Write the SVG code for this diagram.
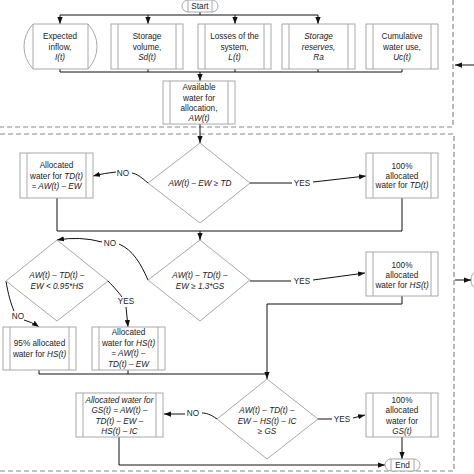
<svg xmlns="http://www.w3.org/2000/svg" width="474" height="474" viewBox="0 0 474 474">
<style>
.box{fill:#fff;stroke:#a8a8a8;stroke-width:1}
.in{fill:none;stroke:#a8a8a8;stroke-width:1}
.t{font-family:"Liberation Sans",Arial,sans-serif;font-size:8.2px;fill:#222;text-anchor:middle}
.i{font-style:italic}
.c{fill:none;stroke:#111;stroke-width:1}
.a{fill:none;stroke:#111;stroke-width:1;marker-end:url(#ah)}
.d{fill:none;stroke:#8a8a8a;stroke-width:1.2;stroke-dasharray:5,3}
</style>
<defs>
<marker id="ah" viewBox="0 0 8 6" refX="8" refY="3" markerWidth="7" markerHeight="5.5" orient="auto" markerUnits="userSpaceOnUse"><path d="M0,0L8,3L0,6z" fill="#111"/></marker>
</defs>
<rect width="474" height="474" fill="#fff"/>
<g id="frames">
<path class="d" d="M453,0V127H0"/>
<path class="d" d="M0,134H454V471H0"/>
<path d="M477,272Q471,272 471,280Q471,288 477,288" fill="#fff" stroke="#a8a8a8"/>
</g>
<g id="connectors">
<path class="c" d="M200,12V15M60,15H318"/>
<path class="a" d="M60,15V24"/><path class="a" d="M148,15V24"/><path class="a" d="M235,15V24"/><path class="a" d="M318,15V24"/>
<path class="c" d="M60,69V72H402V69M148,69V72M235,69V72M318,69V72"/>
<path class="a" d="M200,72V81"/>
<path class="a" d="M200,124V143"/>
<path class="c" d="M148,183C141,177 137,174 132,173"/>
<path class="a" d="M116,172Q105,173 93,176"/>
<path class="c" d="M250,183H292"/>
<path class="a" d="M313,182L366,176"/>
<path class="c" d="M57,198V231H402V198"/>
<path class="a" d="M200,231V240"/>
<path class="c" d="M250,281H291"/>
<path class="a" d="M313,280L365,273"/>
<path class="c" d="M402,296V304H267V374"/>
<path class="c" d="M148,280C141,264 133,250 119,244"/>
<path class="a" d="M102,242Q80,236 57,240"/>
<path class="c" d="M6,281C8,294 11,304 14,311"/>
<path class="a" d="M24,320Q32,322 39,327"/>
<path class="c" d="M108,281C115,288 119,293 122,297"/>
<path class="a" d="M126,307Q127,317 128,327"/>
<path class="c" d="M39,370V374H267M128,370V374"/>
<path class="a" d="M267,374V379"/>
<path class="c" d="M217,419C210,414 206,413 202,413"/>
<path class="a" d="M185,414L164,414"/>
<path class="c" d="M318,419H332"/>
<path class="a" d="M353,418L365,415"/>
<path class="a" d="M402,437V459"/>
<path class="a" d="M119,437V465H385"/>
<path class="a" d="M474,65H455"/>
<path class="a" d="M455,280H471"/>
</g>
<g class="t">
<text x="123" y="176">NO</text>
<text x="302" y="186">YES</text>
<text x="302" y="284">YES</text>
<text x="110" y="246">NO</text>
<text x="18" y="319">NO</text>
<text x="126" y="304">YES</text>
<text x="193" y="416">NO</text>
<text x="342" y="422">YES</text>
</g>
<g id="start">
<rect class="box" x="182" y="0" width="36" height="12" rx="6"/>
<path class="in" d="M188,0V12M212,0V12"/>
<text class="t" x="200" y="9">Start</text>
</g>
<g id="inflow">
<path class="box" d="M33,24H88Q97,34 97,46.5Q97,59 88,69H33Q24,59 24,46.5Q24,34 33,24z"/>
<path class="in" d="M33,24V69M88,24V69"/>
<text class="t" x="60" y="39">Expected</text>
<text class="t" x="60" y="49.5">inflow,</text>
<text class="t i" x="60" y="60">I(t)</text>
</g>
<g id="storage">
<rect class="box" x="111" y="24" width="72" height="45"/>
<path class="in" d="M118,24V69M176,24V69"/>
<text class="t" x="147" y="39">Storage</text>
<text class="t" x="147" y="49.5">volume,</text>
<text class="t i" x="147" y="60">Sd(t)</text>
</g>
<g id="losses">
<rect class="box" x="198" y="24" width="73" height="45"/>
<path class="in" d="M205,24V69M264,24V69"/>
<text class="t" x="234.5" y="39">Losses of the</text>
<text class="t" x="234.5" y="49.5">system,</text>
<text class="t i" x="234.5" y="60">L(t)</text>
</g>
<g id="reserves">
<rect class="box" x="282" y="24" width="73" height="45"/>
<path class="in" d="M289,24V69M348,24V69"/>
<text class="t i" x="318.5" y="39">Storage</text>
<text class="t i" x="318.5" y="49.5">reserves,</text>
<text class="t i" x="318.5" y="60">Ra</text>
</g>
<g id="cumulative">
<rect class="box" x="366" y="24" width="72" height="45"/>
<path class="in" d="M373,24V69M431,24V69"/>
<text class="t" x="402" y="39">Cumulative</text>
<text class="t" x="402" y="49.5">water use,</text>
<text class="t i" x="402" y="60">Uc(t)</text>
</g>
<g id="available">
<rect class="box" x="163" y="81" width="72" height="43"/>
<path class="in" d="M170,81V124M228,81V124"/>
<text class="t" x="199" y="90">Available</text>
<text class="t" x="199" y="100.5">water for</text>
<text class="t" x="199" y="111">allocation,</text>
<text class="t i" x="199" y="121">AW(t)</text>
</g>
<g id="dec1">
<polygon class="box" points="200,143 250,183 200,223 148,183"/>
<text class="t i" x="200" y="186">AW(t) – EW ≥ TD</text>
</g>
<g id="td-alloc">
<rect class="box" x="20" y="153" width="73" height="45"/>
<path class="in" d="M27,153V198M86,153V198"/>
<text class="t" x="56.5" y="168">Allocated</text>
<text class="t" x="56.5" y="178.5">water for <tspan class="i">TD(t)</tspan></text>
<text class="t i" x="56.5" y="189">= AW(t) – EW</text>
</g>
<g id="td-full">
<rect class="box" x="366" y="153" width="72" height="45"/>
<path class="in" d="M373,153V198M431,153V198"/>
<text class="t" x="402" y="169">100%</text>
<text class="t" x="402" y="178.5">allocated</text>
<text class="t" x="402" y="188">water for <tspan class="i">TD(t)</tspan></text>
</g>
<g id="dec2">
<polygon class="box" points="200,240 250,280 200,321 148,280"/>
<text class="t i" x="200" y="278">AW(t) – TD(t) –</text>
<text class="t i" x="200" y="289">EW  ≥ 1.3*GS</text>
</g>
<g id="hs-full">
<rect class="box" x="366" y="252" width="72" height="44"/>
<path class="in" d="M373,252V296M431,252V296"/>
<text class="t" x="402" y="268">100%</text>
<text class="t" x="402" y="278">allocated</text>
<text class="t" x="402" y="287.5">water for <tspan class="i">HS(t)</tspan></text>
</g>
<g id="dec3">
<polygon class="box" points="57,240 108,281 57,321 6,281"/>
<text class="t i" x="57" y="278">AW(t) – TD(t) –</text>
<text class="t i" x="57" y="289">EW &lt; 0.95*HS</text>
</g>
<g id="hs-95">
<rect class="box" x="3" y="327" width="73" height="43"/>
<path class="in" d="M10,327V370M69,327V370"/>
<text class="t" x="39.5" y="346">95% allocated</text>
<text class="t" x="39.5" y="357">water for <tspan class="i">HS(t)</tspan></text>
</g>
<g id="hs-alloc">
<rect class="box" x="92" y="327" width="73" height="43"/>
<path class="in" d="M99,327V370M158,327V370"/>
<text class="t" x="128.5" y="335">Allocated</text>
<text class="t" x="128.5" y="345.5">water for <tspan class="i">HS(t)</tspan></text>
<text class="t i" x="128.5" y="356">= AW(t) –</text>
<text class="t i" x="128.5" y="366.5">TD(t) – EW</text>
</g>
<g id="dec4">
<polygon class="box" points="267,379 318,419 267,459 217,419"/>
<text class="t i" x="267" y="413">AW(t) – TD(t) –</text>
<text class="t i" x="267" y="424">EW – HS(t) –  IC</text>
<text class="t i" x="267" y="434">≥ GS</text>
</g>
<g id="gs-alloc">
<rect class="box" x="76" y="393" width="87" height="44"/>
<path class="in" d="M83,393V437M156,393V437"/>
<text class="t i" x="119.5" y="403">Allocated water for</text>
<text class="t i" x="119.5" y="413">GS(t) = AW(t) –</text>
<text class="t i" x="119.5" y="424">TD(t) – EW –</text>
<text class="t i" x="119.5" y="434">HS(t) –  IC</text>
</g>
<g id="gs-full">
<rect class="box" x="366" y="393" width="72" height="44"/>
<path class="in" d="M373,393V437M431,393V437"/>
<text class="t" x="402" y="403">100%</text>
<text class="t" x="402" y="413">allocated</text>
<text class="t" x="402" y="424">water for</text>
<text class="t i" x="402" y="434">GS(t)</text>
</g>
<g id="end">
<rect class="box" x="385" y="459" width="35" height="12" rx="6"/>
<path class="in" d="M391,459V471M414,459V471"/>
<text class="t" x="402.5" y="468">End</text>
</g>
</svg>
